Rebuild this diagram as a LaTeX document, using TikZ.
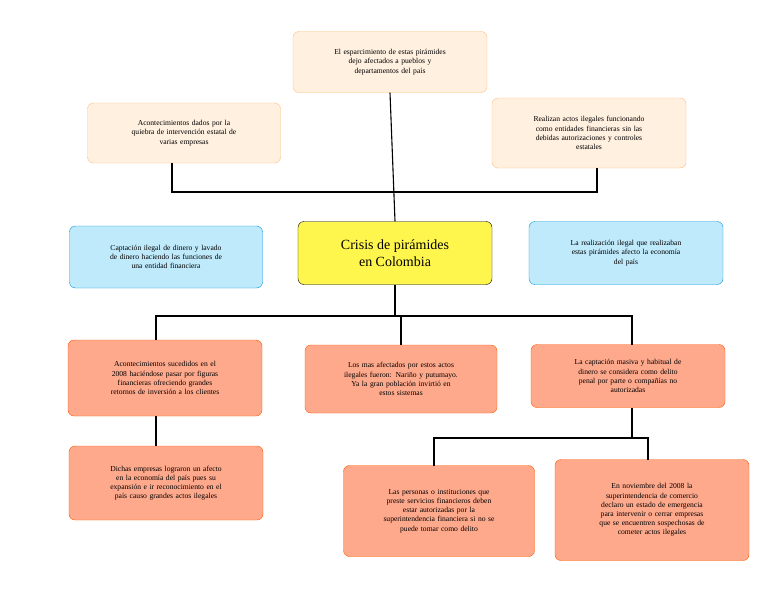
\documentclass[tikz,border=0pt]{standalone}
\usepackage{fontspec}
\setmainfont{Liberation Serif}
\begin{document}
\begin{tikzpicture}[x=1pt,y=-1pt,
  box/.style={rounded corners=6pt,align=center,inner sep=2pt,font=\fontsize{7.6}{9.2}\selectfont},
  peach/.style={box,fill=orange!12,draw=orange!50},
  blue/.style={box,fill=cyan!25,draw=cyan!80!blue},
  org/.style={box,fill=orange!50!red!45!white,draw=orange!70!red},
  ln/.style={draw=black,line width=1.1pt}]
\useasboundingbox[fill=white] (0,0) rectangle (768,594);
\node[peach,minimum width=194pt,minimum height=61pt,text width=180pt] (t) at (390,62) {El esparcimiento de estas pirámides\\dejo afectados a pueblos y\\departamentos del país};
\node[peach,minimum width=193pt,minimum height=60pt,text width=180pt] (tl) at (184,133) {Acontecimientos dados por la\\quiebra de intervención estatal de\\varias empresas};
\node[peach,minimum width=194pt,minimum height=70pt,text width=180pt] (tr) at (589,133) {Realizan actos ilegales funcionando\\como entidades financieras sin las\\debidas autorizaciones y controles\\estatales};
\node[box,fill=yellow!70,draw=black,minimum width=194pt,minimum height=63pt,font=\fontsize{14}{17}\selectfont] (c) at (395,253) {Crisis de pirámides\\en Colombia};
\node[blue,minimum width=193pt,minimum height=62pt,text width=180pt] (bl) at (166,257) {Captación ilegal de dinero y lavado\\de dinero haciendo las funciones de\\una entidad financiera};
\node[blue,minimum width=194pt,minimum height=63pt,text width=180pt] (br) at (626,253) {La realización ilegal que realizaban\\estas pirámides afecto la economía\\del país};
\node[org,minimum width=194pt,minimum height=76pt,text width=180pt] (m1) at (165,378) {Acontecimientos sucedidos en el\\2008 haciéndose pasar por figuras\\financieras ofreciendo grandes\\retornos de inversión a los clientes};
\node[org,minimum width=192pt,minimum height=68pt,text width=180pt] (m2) at (401,379) {Los mas afectados por estos actos\\ilegales fueron: Nariño y putumayo.\\Ya la gran población invirtió en\\estos sistemas};
\node[org,minimum width=194pt,minimum height=63pt,text width=180pt] (m3) at (628,376) {La captación masiva y habitual de\\dinero se considera como delito\\penal por parte o compañías no\\autorizadas};
\node[org,minimum width=194pt,minimum height=74pt,text width=180pt] (b1) at (166,483) {Dichas empresas lograron un afecto\\en la economía del país pues su\\expansión e ir reconocimiento en el\\país causo grandes actos ilegales};
\node[org,minimum width=191pt,minimum height=91pt,text width=180pt] (b2) at (439,511) {Las personas o instituciones que\\preste servicios financieros deben\\estar autorizadas por la\\superintendencia financiera si no se\\puede tomar como delito};
\node[org,minimum width=194pt,minimum height=101pt,text width=180pt] (b3) at (652,510) {En noviembre del 2008 la\\superintendencia de comercio\\declaro un estado de emergencia\\para intervenir o cerrar empresas\\que se encuentren sospechosas de\\cometer actos ilegales};
\coordinate (j1) at (172,192); \coordinate (j2) at (597,192);
\draw[ln] (t.south) -- (c.north);
\draw[ln] (172,163) -- (j1) -- (j2) -- (597,168);
\coordinate (k) at (395,316);
\draw[ln] (c.south) -- (k);
\draw[ln] (156,340) -- (156,316) -- (632,316) -- (632,345);
\draw[ln] (401,316) -- (m2.north);
\draw[ln] (156,416) -- (156,446);
\draw[ln] (632,408) -- (632,438);
\draw[ln] (434,466) -- (434,438) -- (648,438) -- (648,460);
\end{tikzpicture}
\end{document}
